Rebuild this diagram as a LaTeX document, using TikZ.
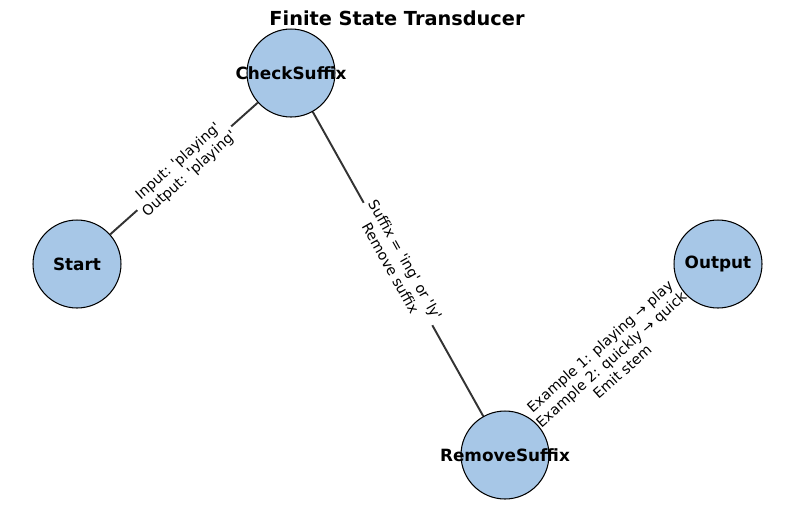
\documentclass[tikz,border=0pt]{standalone}
\usepackage{fontspec}
\setmainfont{DejaVu Sans}
\usetikzlibrary{backgrounds}
\newcommand{\sq}[1]{\textquotesingle#1\textquotesingle}
\newcommand{\stname}[1]{\makebox[0pt]{#1}}
\begin{document}
\begin{tikzpicture}[x=0.02cm,y=-0.02cm,
	state/.style={circle,draw=black,line width=0.6pt,fill=stfill,minimum size=1.76cm,inner sep=0pt,font=\fontsize{9.6}{11}\selectfont\bfseries},
	edge/.style={draw=edgegray,line width=1.1pt},
	elabel/.style={fill=white,inner sep=1.5pt,align=center,font=\fontsize{8.1}{9.6}\selectfont}]
	\definecolor{stfill}{HTML}{A7C7E7}
	\definecolor{edgegray}{HTML}{333333}
	\useasboundingbox (0,0) rectangle (794,505);
	\node (title) at (397,18) {\fontsize{11}{13}\selectfont\bfseries Finite State Transducer};
	% states
	\node[state] (start) at (77,264) {\stname{Start}};
	\node[state] (check) at (291,73) {\stname{CheckSuffix}};
	\node[state] (remove) at (505,455) {\stname{RemoveSuffix}};
	\node[state] (output) at (718,264) {\stname{Output}};
	% transitions, kept under the states
	\begin{pgfonlayer}{background}
		\path[edge] (start) -- (check);
		\path[edge] (check) -- (remove);
		\path[edge] (remove) -- (output);
		\node[elabel,rotate=41.7] (lab1) at (184,168) {Input: \sq{playing}\\Output: \sq{playing}};
		\node[elabel,rotate=-60.7] (lab2) at (398,264) {Suffix = \sq{ing} or \sq{ly}\\Remove suffix};
		\node[elabel,rotate=41.7] (lab3) at (611,359) {Example 1: playing → play\\Example 2: quickly → quick\\Emit stem};
	\end{pgfonlayer}
\end{tikzpicture}
\end{document}
